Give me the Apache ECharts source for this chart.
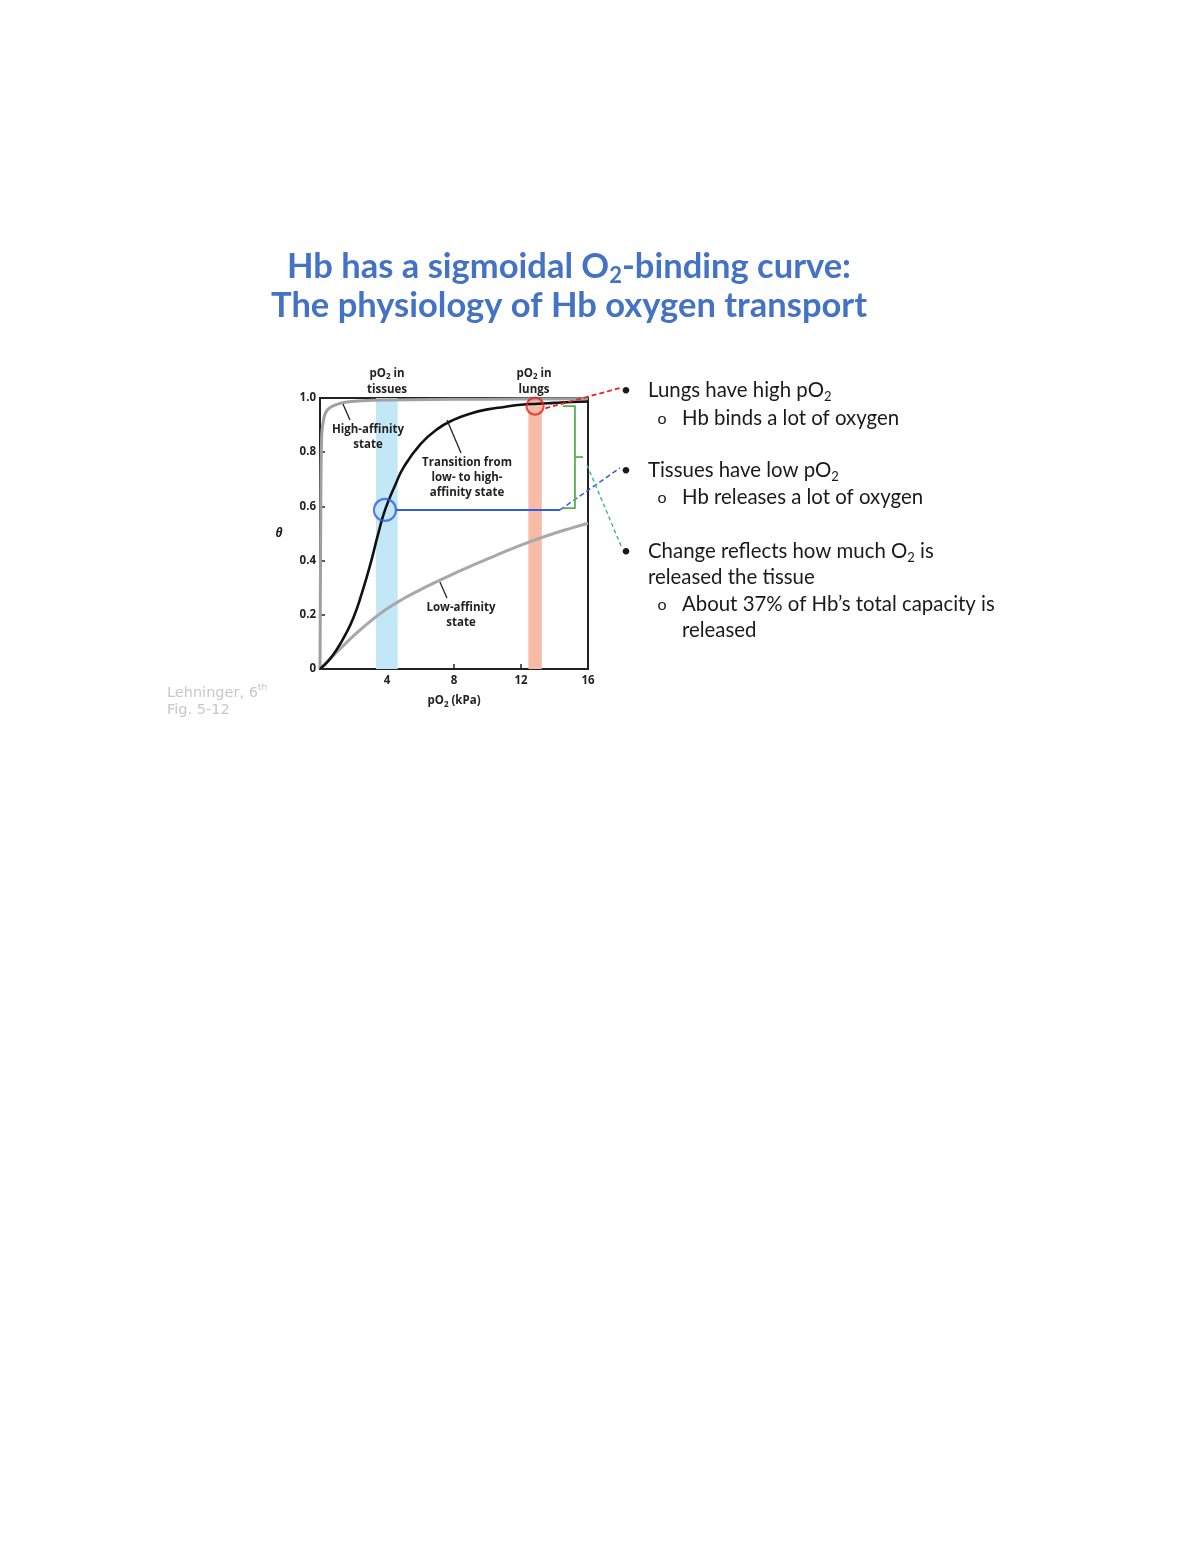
<!DOCTYPE html>
<html>
<head>
<meta charset="utf-8">
<script src="https://cdn.jsdelivr.net/npm/echarts@6/dist/echarts.min.js"></script>
<style>
html,body{margin:0;padding:0;background:#fff;}
#chart{width:1200px;height:1553px;}
</style>
</head>
<body>
<div id="chart"></div>
<script>
// ---- data ----
const xTicks = [0, 4, 8, 12, 16];
const yTicks = [0, 0.2, 0.4, 0.6, 0.8, 1.0];

const pO2High = [0, 0.05, 0.1, 0.2, 0.3, 0.5, 0.9, 1.5, 2.5, 4, 8, 12, 16];
const thetaHigh = [0, 0.62, 0.86, 0.915, 0.94, 0.96, 0.974, 0.984, 0.99, 0.993, 0.995, 0.996, 0.997];

const pO2Trans = [0, 0.5, 1, 1.5, 2, 2.5, 3, 3.5, 3.9, 4.5, 5, 6, 7, 8, 9, 10, 11, 12, 13, 14, 15, 16];
const thetaTrans = [0, 0.03, 0.072, 0.125, 0.19, 0.28, 0.385, 0.505, 0.59, 0.68, 0.745, 0.83, 0.885, 0.92, 0.943, 0.958, 0.967, 0.975, 0.979, 0.982, 0.985, 0.987];

const pO2Low = [0, 1, 2, 3, 4, 5, 6, 7, 8, 9, 10, 11, 12, 13, 14, 15, 16];
const thetaLow = [0, 0.062, 0.122, 0.176, 0.222, 0.26, 0.293, 0.323, 0.352, 0.38, 0.406, 0.432, 0.457, 0.48, 0.501, 0.52, 0.538];

const tissueBand = [3.34, 4.64];
const lungBand = [12.44, 13.24];

const tissuePoint = [3.88, 0.587];
const lungPoint = [12.84, 0.97];

// annotation segments (data coordinates)
const bluePath = [[4.54, 0.587], [14.33, 0.587]];
const blueDash = [[14.33, 0.587], [17.91, 0.742]];
const redDash = [[13.45, 0.962], [17.91, 1.037]];
const greenBracket = [[14.5, 0.97], [15.22, 0.97], [15.22, 0.594], [14.5, 0.594]];
const greenMid = [[15.22, 0.782], [15.7, 0.782]];
const greenDash = [[15.94, 0.753], [18.03, 0.446]];
const leaderHigh = [[1.37, 0.978], [1.79, 0.919]];
const leaderTrans = [[7.58, 0.919], [8.42, 0.797]];
const leaderLow = [[7.16, 0.321], [7.58, 0.262]];

// ---- build ----
const zip = (xs, ys) => xs.map((x, i) => [x, ys[i]]);
const chart = echarts.init(document.getElementById('chart'));

const F = 'Lato, "Open Sans", sans-serif';
const FC = '"Open Sans", Lato, sans-serif';
const lab = {fontFamily: FC, fontWeight: 'bold', fontSize: 11.5, fill: '#222'};
const ZT = 100;

function txt(x, y, text, style, align) {
  return {
    type: 'text', x: x, y: y, silent: true, z: ZT,
    style: Object.assign({text: text, textAlign: align || 'center', textVerticalAlign: 'middle'}, style)
  };
}

const BS = 20.4;
const richBody = {
  m: {fontFamily: F, fontSize: BS, lineHeight: 26, fill: '#1a1a1a'},
  s: {fontFamily: F, fontSize: 13, lineHeight: 13, verticalAlign: 'bottom', fill: '#1a1a1a'}
};
function body(x, y, text) {
  return {
    type: 'text', x: x, y: y, silent: true, z: ZT,
    style: {text: text, rich: richBody, textVerticalAlign: 'middle', textAlign: 'left', fill: '#1a1a1a'}
  };
}
const richSmall = {
  m: {fontFamily: FC, fontWeight: 'bold', fontSize: 11.5, lineHeight: 15, fill: '#222'},
  s: {fontFamily: FC, fontWeight: 'bold', fontSize: 8, lineHeight: 8, verticalAlign: 'bottom', fill: '#222'}
};
function small(x, y, text) {
  return {
    type: 'text', x: x, y: y, silent: true, z: ZT,
    style: {text: text, rich: richSmall, textVerticalAlign: 'middle', textAlign: 'center', fill: '#222'}
  };
}
const richTitle = {
  m: {fontFamily: F, fontWeight: 'bold', fontSize: 34.5, lineHeight: 40, fill: '#4472C4'},
  s: {fontFamily: F, fontWeight: 'bold', fontSize: 22, lineHeight: 22, verticalAlign: 'bottom', fill: '#4472C4'}
};

const option = {
  backgroundColor: '#fff',
  animation: false,
  grid: {left: 320, right: 612, top: 398, bottom: 884, containLabel: false, outerBoundsMode: 'none',
         show: true, borderColor: '#222', borderWidth: 2, backgroundColor: 'transparent'},
  xAxis: {
    type: 'value', min: 0, max: 16, interval: 4,
    axisLine: {show: true, lineStyle: {color: '#222', width: 2}},
    axisTick: {show: true, inside: true, length: 5, lineStyle: {color: '#222', width: 1.5}},
    splitLine: {show: false},
    axisLabel: {margin: 6, fontFamily: FC, fontWeight: 'bold', fontSize: 11.5, color: '#222',
                formatter: v => v === 0 ? '' : String(v)}
  },
  yAxis: {
    type: 'value', min: 0, max: 1, interval: 0.2,
    axisLine: {show: true, lineStyle: {color: '#222', width: 2}},
    axisTick: {show: true, inside: true, length: 5, lineStyle: {color: '#222', width: 1.5}},
    splitLine: {show: false},
    axisLabel: {margin: 4, fontFamily: FC, fontWeight: 'bold', fontSize: 11.5, color: '#222',
                formatter: v => v === 0 ? '0' : v.toFixed(1)}
  },
  series: [
    {
      type: 'line', data: zip(pO2Low, thetaLow), smooth: true, symbol: 'none',
      lineStyle: {color: '#a8a8a8', width: 3}, z: 3,
      markArea: {
        silent: true,
        data: [
          [{xAxis: tissueBand[0], itemStyle: {color: '#C2E8F8'}}, {xAxis: tissueBand[1]}],
          [{xAxis: lungBand[0], itemStyle: {color: '#F8BBA6'}}, {xAxis: lungBand[1]}]
        ]
      }
    },
    {
      type: 'line', data: zip(pO2High, thetaHigh), smooth: true, symbol: 'none',
      lineStyle: {color: '#a0a0a0', width: 3}, z: 3
    },
    {
      type: 'line', data: zip(pO2Trans, thetaTrans), smooth: true, symbol: 'none',
      lineStyle: {color: '#111', width: 2.6}, z: 4
    },
    {
      type: 'scatter', data: [tissuePoint], symbol: 'circle', symbolSize: 22, silent: true, z: 6,
      itemStyle: {color: 'rgba(0,0,0,0)', borderColor: '#2f5fe0', borderWidth: 2.2}
    },
    {
      type: 'scatter', data: [lungPoint], symbol: 'circle', symbolSize: 17, silent: true, z: 6,
      itemStyle: {color: 'rgba(0,0,0,0)', borderColor: '#e52421', borderWidth: 2.2}
    }
  ]
};
chart.setOption(option);

// annotation lines converted through the chart's own scales
function seg(points, color, width, dash) {
  const pts = points.map(p => chart.convertToPixel({gridIndex: 0}, p));
  return {
    type: 'polyline', silent: true, z: 50,
    shape: {points: pts},
    style: {stroke: color, lineWidth: width, fill: null, lineDash: dash || null}
  };
}

const graphics = [
  seg(bluePath, '#2f5fe0', 2),
  seg(blueDash, '#2f5fe0', 1.5, [5, 3]),
  seg(redDash, '#e52421', 1.8, [5, 3]),
  seg(greenBracket, '#5fae4f', 1.8),
  seg(greenMid, '#5fae4f', 1.8),
  seg(greenDash, '#2cb588', 1.3, [4, 3]),
  seg(leaderHigh, '#222', 1.3),
  seg(leaderTrans, '#222', 1.3),
  seg(leaderLow, '#222', 1.3),
  {
    type: 'text', x: 569, y: 267, silent: true, z: ZT,
    style: {text: '{m|Hb has a sigmoidal O}{s|2}{m|-binding curve:}', rich: richTitle, textAlign: 'center', textVerticalAlign: 'middle'}
  },
  {
    type: 'text', x: 569, y: 306, silent: true, z: ZT,
    style: {text: '{m|The physiology of Hb oxygen transport}', rich: richTitle, textAlign: 'center', textVerticalAlign: 'middle'}
  },
  small(387, 373.5, '{m|pO}{s|2}{m| in}'),
  small(387, 389.5, '{m|tissues}'),
  small(534, 373.5, '{m|pO}{s|2}{m| in}'),
  small(534, 389.5, '{m|lungs}'),
  txt(368, 429.5, 'High-affinity', lab),
  txt(368, 444.5, 'state', lab),
  txt(467, 462.5, 'Transition from', lab),
  txt(467, 477.5, 'low- to high-', lab),
  txt(467, 492.5, 'affinity state', lab),
  txt(461, 607.5, 'Low-affinity', lab),
  txt(461, 622.5, 'state', lab),
  txt(279, 534, 'θ', {fontFamily: FC, fontStyle: 'italic', fontWeight: 'bold', fontSize: 12, fill: '#222'}),
  small(454, 701, '{m|pO}{s|2}{m| (kPa)}'),
  // bullets
  txt(626, 390, '•', {fontFamily: F, fontSize: 18, fill: '#1a1a1a'}),
  body(648, 390, '{m|Lungs have high pO}{s|2}'),
  txt(662, 419, 'o', {fontFamily: F, fontSize: 16, fill: '#1a1a1a'}),
  body(682, 418, '{m|Hb binds a lot of oxygen}'),
  txt(626, 470, '•', {fontFamily: F, fontSize: 18, fill: '#1a1a1a'}),
  body(648, 470, '{m|Tissues have low pO}{s|2}'),
  txt(662, 498, 'o', {fontFamily: F, fontSize: 16, fill: '#1a1a1a'}),
  body(682, 497, '{m|Hb releases a lot of oxygen}'),
  txt(626, 551, '•', {fontFamily: F, fontSize: 18, fill: '#1a1a1a'}),
  body(648, 551, '{m|Change reflects how much O}{s|2}{m| is}'),
  body(648, 577, '{m|released the tissue}'),
  txt(662, 605, 'o', {fontFamily: F, fontSize: 16, fill: '#1a1a1a'}),
  body(682, 604, '{m|About 37% of Hb\u2019s total capacity is}'),
  body(682, 630, '{m|released}'),
  // footnote
  {
    type: 'text', x: 167, y: 692, silent: true, z: ZT,
    style: {text: '{m|Lehninger, 6}{t|th}', textVerticalAlign: 'middle', textAlign: 'left',
      rich: {m: {fontFamily: '"DejaVu Sans", sans-serif', fontSize: 14.5, lineHeight: 18, fill: '#c8c8c8', verticalAlign: 'bottom'},
             t: {fontFamily: '"DejaVu Sans", sans-serif', fontSize: 9, lineHeight: 9, fill: '#c8c8c8', verticalAlign: 'top'}}}
  },
  txt(167, 710, 'Fig. 5-12', {fontFamily: '"DejaVu Sans", sans-serif', fontSize: 14.5, fill: '#c8c8c8'}, 'left')
];
chart.setOption({graphic: graphics});
</script>
</body>
</html>
